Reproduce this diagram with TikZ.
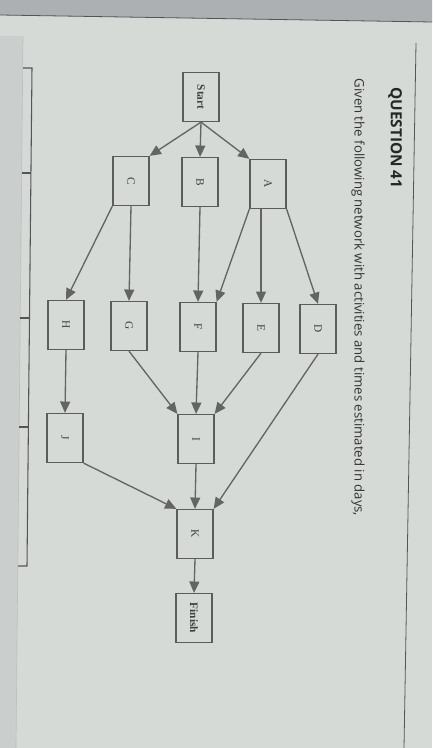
\documentclass[tikz,border=0pt]{standalone}
\usepackage{graphicx}
\usepackage{fontspec}
\setmainfont{Liberation Serif}
\newfontfamily\qfont{Open Sans}
\usetikzlibrary{arrows.meta}

\definecolor{pagegray}{RGB}{214,218,214}
\definecolor{topgray}{RGB}{172,176,178}
\definecolor{sidegray}{RGB}{202,206,205}
\definecolor{boxgray}{RGB}{92,92,92}
\definecolor{arrowgray}{RGB}{100,100,100}
\definecolor{edgegray}{RGB}{85,85,85}

\newcommand{\turn}[1]{\rotatebox{-90}{#1}}

\tikzset{every picture/.style={line width=0.75pt}}

\begin{document}
\begin{tikzpicture}[x=0.75pt,y=0.75pt,yscale=-1,xscale=1,
  box/.style={draw=boxgray, line width=0.95pt, minimum width=27pt, minimum height=36.75pt, inner sep=0pt, font=\fontsize{8.5}{9}\selectfont, text=black!75},
  flow/.style={draw=arrowgray, line width=1pt, -{Triangle[length=8.5pt,width=7.5pt]}}]
\useasboundingbox (0,0) rectangle (432,748);

%Shape: Page background
\fill [pagegray] (0,0) rectangle (432,748);
\fill [topgray] (0,0) -- (432,0) -- (432,22) -- (0,15) -- cycle;
\draw [edgegray, line width=0.6pt] (0,15) -- (432,22);
\fill [sidegray] (0,36) -- (23,36) -- (16,748) -- (0,748) -- cycle;
\draw [black!25, line width=0.5pt] (23,36) -- (16,748);
%Straight Lines: right frame
\draw [edgegray, line width=0.6pt] (416,43) -- (404,748);
%Straight Lines: left bracket
\draw [edgegray, line width=0.8pt] (23,68) -- (32,68) -- (27,566) -- (18,566);
\draw [edgegray, line width=0.8pt] (22,173) -- (30.9,173);
\draw [edgegray, line width=0.8pt] (20,318) -- (29.5,318);
\draw [edgegray, line width=0.8pt] (19,427) -- (28.4,427);

% Text Node
\node (title) [anchor=west, rotate=-90, inner sep=0pt, text=black!85] at (395,87) {\qfont\bfseries\fontsize{11.5}{13}\selectfont QUESTION 41};
% Text Node
\node (intro) [anchor=west, rotate=-90, inner sep=0pt, text=black!80] at (358,78) {\qfont\fontsize{9.9}{12}\selectfont Given the following network with activities and times estimated in days,};

%Shape: Rectangle (activities)
\node (start) [box] at (201,97) {\turn{\bfseries Start}};
\node (c) [box] at (131,181) {\turn{C}};
\node (b) [box] at (200,182) {\turn{B}};
\node (a) [box] at (268,184) {\turn{A}};
\node (h) [box] at (66,325) {\turn{H}};
\node (g) [box] at (129,326) {\turn{G}};
\node (f) [box] at (198,327) {\turn{F}};
\node (e) [box] at (261,328) {\turn{E}};
\node (d) [box] at (318,329) {\turn{D}};
\node (j) [box] at (65,438) {\turn{J}};
\node (i) [box] at (196,439) {\turn{I}};
\node (k) [box] at (195,534) {\turn{K}};
\node (finish) [box] at (194,618) {\turn{\bfseries Finish}};

%Straight Lines (precedences)
\draw [flow] (start.south) -- (c.north east);
\draw [flow] (start.south) -- (b.north);
\draw [flow] (start.south) -- (a.north west);
\draw [flow] (c.south west) -- (h.north);
\draw [flow] (c.south) -- (g.north);
\draw [flow] (b.south) -- (f.north);
\draw [flow] (a.south west) -- (f.north east);
\draw [flow] (a.south -| e.north) -- (e.north);
\draw [flow] (a.south east) -- (d.north);
\draw [flow] (h.south) -- (j.north);
\draw [flow] (g.south) -- (i.north west);
\draw [flow] (f.south) -- (i.north);
\draw [flow] (e.south) -- (i.north east);
\draw [flow] (d.south) -- (k.north east);
\draw [flow] (j.south east) -- (k.north west);
\draw [flow] (i.south) -- (k.north);
\draw [flow] (k.south) -- (finish.north);

\end{tikzpicture}
\end{document}
